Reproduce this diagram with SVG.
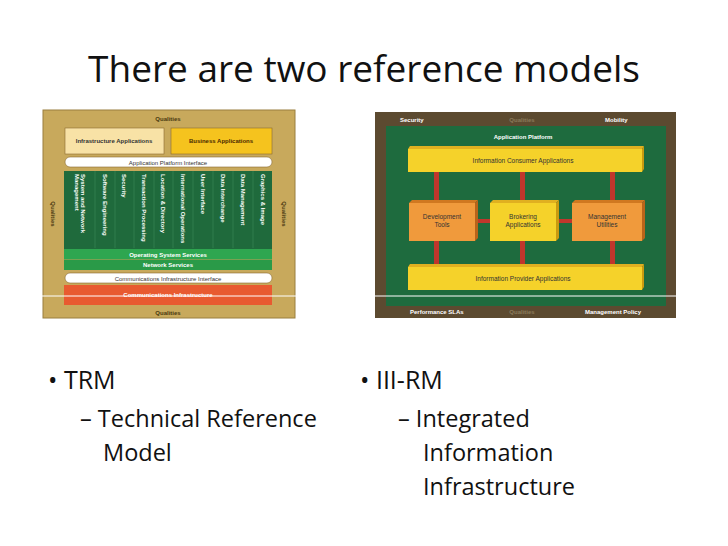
<svg xmlns="http://www.w3.org/2000/svg" width="728" height="546" viewBox="0 0 728 546">
<style>
text{font-family:"Liberation Sans",Arial,sans-serif}
.s{font-size:6px;font-weight:bold}
.c{font-size:6px;fill:#fff;font-weight:bold}
text.big{font-family:"Open Sans","Liberation Sans",sans-serif;fill:#111}
.br{fill:#c0362c}
</style>
<rect width="728" height="546" fill="#fff"/>
<text class="big" x="364" y="82" font-size="37" text-anchor="middle">There are two reference models</text>
<g id="trm">
<rect x="43" y="110" width="252" height="208" fill="#c8a95c" stroke="#9a7f3e"/>
<text class="s" x="168" y="121" text-anchor="middle" fill="#4a3a10">Qualities</text>
<text class="s" x="168" y="315" text-anchor="middle" fill="#4a3a10">Qualities</text>
<text class="s" transform="translate(51,214) rotate(90)" text-anchor="middle" fill="#4a3a10">Qualities</text>
<text class="s" transform="translate(282,214) rotate(90)" text-anchor="middle" fill="#4a3a10">Qualities</text>
<rect x="65" y="128" width="99" height="26" fill="#f8e2a6" stroke="#8a6a30" stroke-width="0.6"/>
<text class="s" x="114" y="143" text-anchor="middle" fill="#333" font-weight="normal">Infrastructure Applications</text>
<rect x="171" y="128" width="101" height="26" fill="#f5c31e" stroke="#8a6a30" stroke-width="0.6"/>
<text class="s" x="221" y="143" text-anchor="middle" fill="#4a2a00">Business Applications</text>
<rect x="65" y="157" width="207" height="10" rx="5" fill="#fff" stroke="#8a6a30" stroke-width="0.6"/>
<text x="168" y="164.5" font-size="6" text-anchor="middle" fill="#333">Application Platform Interface</text>
<rect x="64" y="171" width="208" height="78" fill="#1f6a3c"/>
<g stroke="#3e8a58" stroke-width="0.6">
<line x1="95" y1="171" x2="95" y2="248"/><line x1="115" y1="171" x2="115" y2="248"/><line x1="134" y1="171" x2="134" y2="248"/><line x1="154" y1="171" x2="154" y2="248"/><line x1="173" y1="171" x2="173" y2="248"/><line x1="193" y1="171" x2="193" y2="248"/><line x1="213" y1="171" x2="213" y2="248"/><line x1="233" y1="171" x2="233" y2="248"/><line x1="253" y1="171" x2="253" y2="248"/>
</g>
<g>
<text transform="translate(81,174) rotate(90)" class="c">System and Network</text>
<text transform="translate(75,174) rotate(90)" class="c">Management</text>
<text transform="translate(103,174) rotate(90)" class="c">Software Engineering</text>
<text transform="translate(122,174) rotate(90)" class="c">Security</text>
<text transform="translate(142,174) rotate(90)" class="c">Transaction Processing</text>
<text transform="translate(161,174) rotate(90)" class="c">Location &amp; Directory</text>
<text transform="translate(181,174) rotate(90)" class="c">International Operations</text>
<text transform="translate(201,174) rotate(90)" class="c">User Interface</text>
<text transform="translate(221,174) rotate(90)" class="c">Data Interchange</text>
<text transform="translate(241,174) rotate(90)" class="c">Data Management</text>
<text transform="translate(261,174) rotate(90)" class="c">Graphics &amp; Image</text>
</g>
<rect x="64" y="249" width="208" height="10" fill="#2ea650"/>
<rect x="64" y="259.5" width="208" height="10.5" fill="#2a9a48"/>
<text class="c" x="168" y="256.5" text-anchor="middle">Operating System Services</text>
<text class="c" x="168" y="267" text-anchor="middle">Network Services</text>
<rect x="65" y="273" width="207" height="10" rx="5" fill="#fff" stroke="#8a6a30" stroke-width="0.6"/>
<text x="168" y="280.5" font-size="6" text-anchor="middle" fill="#333">Communications Infrastructure Interface</text>
<rect x="64" y="285" width="208" height="20" fill="#e85a30"/>
<text class="c" x="168" y="297" text-anchor="middle" fill="#f6b0a0">Communications Infrastructure</text>
</g>
<g id="iiirm">
<rect x="375" y="112" width="301" height="206" fill="#5c4a30"/>
<rect x="386" y="126" width="280" height="180" fill="#1e6b3e"/>
<text class="c" x="400" y="122">Security</text>
<text class="s" x="522" y="122" text-anchor="middle" fill="#8a7a5a">Qualities</text>
<text class="c" x="605" y="122">Mobility</text>
<text class="c" x="410" y="314">Performance SLAs</text>
<text class="s" x="522" y="314" text-anchor="middle" fill="#8a7a5a">Qualities</text>
<text class="c" x="585" y="314">Management Policy</text>
<text class="c" x="523" y="139" text-anchor="middle">Application Platform</text>
</g>
<g id="connectors">
<rect class="br" x="434" y="172" width="5" height="30"/>
<rect class="br" x="520" y="172" width="5" height="30"/>
<rect class="br" x="610" y="172" width="5" height="30"/>
<rect class="br" x="434" y="241" width="5" height="24"/>
<rect class="br" x="520" y="241" width="5" height="24"/>
<rect class="br" x="610" y="241" width="5" height="24"/>
<rect class="br" x="477" y="219" width="13" height="4"/>
<rect class="br" x="556" y="219" width="16" height="4"/>
</g>
<g id="ica">
<polygon points="408,149 410,146 644,146 642,149" fill="#e0b020"/>
<polygon points="642,149 644,146 644,169 642,172" fill="#c99a10"/>
<rect x="408" y="149" width="234" height="23" fill="#f5d22a"/>
<text x="523" y="163" font-size="6.5" text-anchor="middle" fill="#333">Information Consumer Applications</text>
</g>
<g id="dev">
<polygon points="409,203 412,200 478,200 475,203" fill="#d07820"/>
<polygon points="475,203 478,200 478,238 475,241" fill="#b8641a"/>
<rect x="409" y="203" width="66" height="38" fill="#f09a3c"/>
<text x="442" y="219" font-size="6.5" text-anchor="middle" fill="#333">Development</text>
<text x="442" y="227" font-size="6.5" text-anchor="middle" fill="#333">Tools</text>
</g>
<g id="brok">
<polygon points="490,203 493,200 559,200 556,203" fill="#e0b020"/>
<polygon points="556,203 559,200 559,238 556,241" fill="#c99a10"/>
<rect x="490" y="203" width="66" height="38" fill="#f5d22a"/>
<text x="523" y="219" font-size="6.5" text-anchor="middle" fill="#333">Brokering</text>
<text x="523" y="227" font-size="6.5" text-anchor="middle" fill="#333">Applications</text>
</g>
<g id="mgmt">
<polygon points="572,203 575,200 645,200 642,203" fill="#d07820"/>
<polygon points="642,203 645,200 645,238 642,241" fill="#b8641a"/>
<rect x="572" y="203" width="70" height="38" fill="#f09a3c"/>
<text x="607" y="219" font-size="6.5" text-anchor="middle" fill="#333">Management</text>
<text x="607" y="227" font-size="6.5" text-anchor="middle" fill="#333">Utilities</text>
</g>
<g id="ipa">
<polygon points="408,267 410,264 644,264 642,267" fill="#e0b020"/>
<polygon points="642,267 644,264 644,287 642,290" fill="#c99a10"/>
<rect x="408" y="267" width="234" height="23" fill="#f5d22a"/>
<text x="523" y="281" font-size="6.5" text-anchor="middle" fill="#333">Information Provider Applications</text>
</g>
<line x1="35" y1="296" x2="300" y2="296" stroke="#fff" stroke-width="1"/>
<line x1="372" y1="296" x2="700" y2="296" stroke="#fff" stroke-width="1"/>
<g>
<text class="big" x="48" y="389" font-size="25">• TRM</text>
<text class="big" x="80" y="427" font-size="23.5">– Technical Reference</text>
<text class="big" x="103" y="461" font-size="23.5">Model</text>
<text class="big" x="360" y="389" font-size="25">• III-RM</text>
<text class="big" x="398" y="427" font-size="23.5">– Integrated</text>
<text class="big" x="423" y="461" font-size="23.5">Information</text>
<text class="big" x="423" y="495" font-size="23.5">Infrastructure</text>
</g>
</svg>
